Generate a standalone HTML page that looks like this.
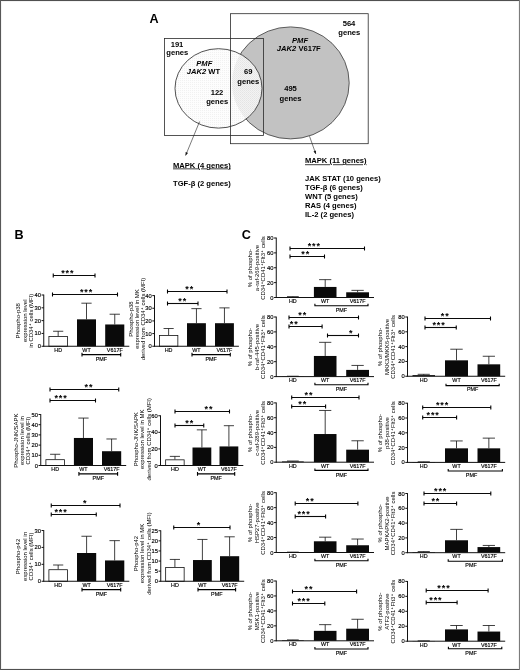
<!DOCTYPE html>
<html><head><meta charset="utf-8"><title>Figure</title>
<style>html,body{margin:0;padding:0;background:#fff}svg{display:block}</style>
</head><body>
<svg width="520" height="670" viewBox="0 0 520 670" font-family="Liberation Sans, Arial, sans-serif">
<defs>
<pattern id="pd1" width="2" height="2" patternUnits="userSpaceOnUse"><rect width="2" height="2" fill="#fdfdfd"/><rect width="1" height="1" fill="#f1f1f1"/></pattern>
<pattern id="pd2" width="2" height="2" patternUnits="userSpaceOnUse"><rect width="2" height="2" fill="#f3f3f3"/><rect width="1" height="1" fill="#e4e4e4"/><rect x="1" y="1" width="1" height="1" fill="#e9e9e9"/></pattern>
<clipPath id="cpBig"><ellipse cx="290.6" cy="82.9" rx="58.6" ry="56"/></clipPath>
</defs>
<rect width="520" height="670" fill="#fff"/>
<text x="149.60" y="23.40" font-size="12.6" text-anchor="start" font-weight="bold" font-style="normal" fill="#000" >A</text>
<ellipse cx="290.6" cy="82.9" rx="58.6" ry="56" fill="#c2c2c2" stroke="#444" stroke-width="0.85"/>
<ellipse cx="218.5" cy="88.4" rx="43.5" ry="39.7" fill="url(#pd1)"/>
<ellipse cx="218.5" cy="88.4" rx="43.5" ry="39.7" fill="url(#pd2)" clip-path="url(#cpBig)"/>
<ellipse cx="218.5" cy="88.4" rx="43.5" ry="39.7" fill="none" stroke="#333" stroke-width="0.85"/>
<rect x="230.4" y="13.7" width="137.8" height="130" fill="none" stroke="#2a2a2a" stroke-width="0.8"/>
<rect x="164.5" y="38.5" width="99" height="97" fill="none" stroke="#2a2a2a" stroke-width="0.8"/>
<text x="177.00" y="46.90" font-size="7.6" text-anchor="middle" font-weight="bold" font-style="normal" fill="#000" >191</text>
<text x="177.30" y="55.30" font-size="7.6" text-anchor="middle" font-weight="bold" font-style="normal" fill="#000" >genes</text>
<text x="204.30" y="65.50" font-size="7.6" text-anchor="middle" font-weight="bold" font-style="italic" fill="#000" >PMF</text>
<text x="203.5" y="74.4" font-size="7.6" text-anchor="middle" font-weight="bold" fill="#000"><tspan font-style="italic">JAK2</tspan> WT</text>
<text x="217.00" y="95.10" font-size="7.6" text-anchor="middle" font-weight="bold" font-style="normal" fill="#000" >122</text>
<text x="217.20" y="103.90" font-size="7.6" text-anchor="middle" font-weight="bold" font-style="normal" fill="#000" >genes</text>
<text x="248.20" y="74.40" font-size="7.6" text-anchor="middle" font-weight="bold" font-style="normal" fill="#000" >69</text>
<text x="248.30" y="83.90" font-size="7.6" text-anchor="middle" font-weight="bold" font-style="normal" fill="#000" >genes</text>
<text x="300.00" y="42.60" font-size="7.6" text-anchor="middle" font-weight="bold" font-style="italic" fill="#000" >PMF</text>
<text x="298.8" y="51.4" font-size="7.6" text-anchor="middle" font-weight="bold" fill="#000"><tspan font-style="italic">JAK2</tspan> V617F</text>
<text x="290.50" y="91.30" font-size="7.6" text-anchor="middle" font-weight="bold" font-style="normal" fill="#000" >495</text>
<text x="290.60" y="101.40" font-size="7.6" text-anchor="middle" font-weight="bold" font-style="normal" fill="#000" >genes</text>
<text x="349.00" y="25.90" font-size="7.6" text-anchor="middle" font-weight="bold" font-style="normal" fill="#000" >564</text>
<text x="349.30" y="34.70" font-size="7.6" text-anchor="middle" font-weight="bold" font-style="normal" fill="#000" >genes</text>
<line x1="199.60" y1="121.50" x2="185.60" y2="155.50" stroke="#222" stroke-width="0.6"/>
<polygon points="185.60,155.50 185.62,152.05 188.02,153.04" fill="#111"/>
<line x1="309.50" y1="136.20" x2="315.80" y2="154.00" stroke="#222" stroke-width="0.6"/>
<polygon points="315.80,154.00 313.51,151.42 315.96,150.55" fill="#111"/>
<text x="173.00" y="167.50" font-size="7.6" text-anchor="start" font-weight="bold" font-style="normal" fill="#000" text-decoration="underline">MAPK (4 genes)</text>
<text x="173.00" y="186.20" font-size="7.6" text-anchor="start" font-weight="bold" font-style="normal" fill="#000" >TGF-β (2 genes)</text>
<text x="305.00" y="163.40" font-size="7.6" text-anchor="start" font-weight="bold" font-style="normal" fill="#000" text-decoration="underline">MAPK (11 genes)</text>
<text x="305.00" y="181.40" font-size="7.6" text-anchor="start" font-weight="bold" font-style="normal" fill="#000" >JAK STAT (10 genes)</text>
<text x="305.00" y="190.20" font-size="7.6" text-anchor="start" font-weight="bold" font-style="normal" fill="#000" >TGF-β (6 genes)</text>
<text x="305.00" y="199.10" font-size="7.6" text-anchor="start" font-weight="bold" font-style="normal" fill="#000" >WNT (5 genes)</text>
<text x="305.00" y="208.10" font-size="7.6" text-anchor="start" font-weight="bold" font-style="normal" fill="#000" >RAS (4 genes)</text>
<text x="305.00" y="217.20" font-size="7.6" text-anchor="start" font-weight="bold" font-style="normal" fill="#000" >IL-2 (2 genes)</text>
<text x="14.60" y="238.60" font-size="12.6" text-anchor="start" font-weight="bold" font-style="normal" fill="#000" >B</text>
<text x="241.80" y="238.80" font-size="12.6" text-anchor="start" font-weight="bold" font-style="normal" fill="#000" >C</text>
<line x1="58.17" y1="336.26" x2="58.17" y2="331.26" stroke="#111" stroke-width="0.8"/>
<line x1="53.09" y1="331.26" x2="63.26" y2="331.26" stroke="#111" stroke-width="0.8"/>
<rect x="48.90" y="336.56" width="18.55" height="9.69" fill="#fff" stroke="#111" stroke-width="0.8"/>
<line x1="86.50" y1="319.34" x2="86.50" y2="303.20" stroke="#111" stroke-width="0.8"/>
<line x1="81.37" y1="303.20" x2="91.63" y2="303.20" stroke="#111" stroke-width="0.8"/>
<rect x="77.00" y="319.34" width="19.00" height="26.91" fill="#0a0a0a"/>
<line x1="114.75" y1="324.47" x2="114.75" y2="314.22" stroke="#111" stroke-width="0.8"/>
<line x1="109.59" y1="314.22" x2="119.91" y2="314.22" stroke="#111" stroke-width="0.8"/>
<rect x="105.20" y="324.47" width="19.10" height="21.78" fill="#0a0a0a"/>
<line x1="43.75" y1="294.60" x2="43.75" y2="346.65" stroke="#111" stroke-width="1.0"/>
<line x1="43.35" y1="346.25" x2="129.30" y2="346.25" stroke="#111" stroke-width="1.0"/>
<line x1="41.55" y1="346.25" x2="43.75" y2="346.25" stroke="#111" stroke-width="1.0"/>
<text x="40.95" y="348.25" font-size="5.8" text-anchor="end" font-weight="normal" font-style="normal" fill="#000" stroke="#000" stroke-width="0.15">0</text>
<line x1="41.55" y1="333.44" x2="43.75" y2="333.44" stroke="#111" stroke-width="1.0"/>
<text x="40.95" y="335.44" font-size="5.8" text-anchor="end" font-weight="normal" font-style="normal" fill="#000" stroke="#000" stroke-width="0.15">10</text>
<line x1="41.55" y1="320.62" x2="43.75" y2="320.62" stroke="#111" stroke-width="1.0"/>
<text x="40.95" y="322.62" font-size="5.8" text-anchor="end" font-weight="normal" font-style="normal" fill="#000" stroke="#000" stroke-width="0.15">20</text>
<line x1="41.55" y1="307.81" x2="43.75" y2="307.81" stroke="#111" stroke-width="1.0"/>
<text x="40.95" y="309.81" font-size="5.8" text-anchor="end" font-weight="normal" font-style="normal" fill="#000" stroke="#000" stroke-width="0.15">30</text>
<line x1="41.55" y1="295.00" x2="43.75" y2="295.00" stroke="#111" stroke-width="1.0"/>
<text x="40.95" y="297.00" font-size="5.8" text-anchor="end" font-weight="normal" font-style="normal" fill="#000" stroke="#000" stroke-width="0.15">40</text>
<line x1="53.25" y1="275.50" x2="95.00" y2="275.50" stroke="#0a0a0a" stroke-width="1.1"/>
<line x1="53.25" y1="273.50" x2="53.25" y2="277.50" stroke="#000" stroke-width="1.1"/>
<line x1="95.00" y1="273.50" x2="95.00" y2="277.50" stroke="#000" stroke-width="1.1"/>
<text x="67.75" y="275.90" font-size="9" text-anchor="middle" font-weight="bold" font-style="normal" fill="#000" letter-spacing="0.9">***</text>
<line x1="52.50" y1="294.50" x2="117.50" y2="294.50" stroke="#0a0a0a" stroke-width="1.1"/>
<line x1="52.50" y1="292.50" x2="52.50" y2="296.50" stroke="#000" stroke-width="1.1"/>
<line x1="117.50" y1="292.50" x2="117.50" y2="296.50" stroke="#000" stroke-width="1.1"/>
<text x="86.55" y="294.90" font-size="9" text-anchor="middle" font-weight="bold" font-style="normal" fill="#000" letter-spacing="0.9">***</text>
<text x="58.17" y="351.65" font-size="5.4" text-anchor="middle" font-weight="normal" font-style="normal" fill="#000" stroke="#000" stroke-width="0.15">HD</text>
<text x="86.50" y="351.65" font-size="5.4" text-anchor="middle" font-weight="normal" font-style="normal" fill="#000" stroke="#000" stroke-width="0.15">WT</text>
<text x="114.75" y="351.65" font-size="5.4" text-anchor="middle" font-weight="normal" font-style="normal" fill="#000" stroke="#000" stroke-width="0.15">V617F</text>
<path d="M82.00,352.85 V356.45 M82.00,354.65 H120.70 M120.70,352.85 V356.45" fill="none" stroke="#000" stroke-width="1.1"/>
<text x="101.35" y="360.85" font-size="5.4" text-anchor="middle" font-weight="normal" font-style="normal" fill="#000" stroke="#000" stroke-width="0.15">PMF</text>
<text transform="translate(20.10,320.83) rotate(-90)" font-size="5.95" text-anchor="middle" fill="#000">Phospho-p38</text>
<text transform="translate(26.90,320.83) rotate(-90)" font-size="5.95" text-anchor="middle" fill="#000">expression level</text>
<text transform="translate(33.20,320.83) rotate(-90)" font-size="5.95" text-anchor="middle" fill="#000">in CD34<tspan dy="-2" dx="0.35" font-size="4.4">+</tspan><tspan dy="2" dx="0.35"> cells (MFI)</tspan></text>
<line x1="168.62" y1="335.11" x2="168.62" y2="328.52" stroke="#111" stroke-width="0.8"/>
<line x1="163.56" y1="328.52" x2="173.69" y2="328.52" stroke="#111" stroke-width="0.8"/>
<rect x="159.40" y="335.41" width="18.45" height="10.84" fill="#fff" stroke="#111" stroke-width="0.8"/>
<line x1="196.45" y1="323.20" x2="196.45" y2="308.64" stroke="#111" stroke-width="0.8"/>
<line x1="191.35" y1="308.64" x2="201.55" y2="308.64" stroke="#111" stroke-width="0.8"/>
<rect x="187.00" y="323.20" width="18.90" height="23.05" fill="#0a0a0a"/>
<line x1="224.45" y1="323.20" x2="224.45" y2="307.88" stroke="#111" stroke-width="0.8"/>
<line x1="219.35" y1="307.88" x2="229.55" y2="307.88" stroke="#111" stroke-width="0.8"/>
<rect x="215.00" y="323.20" width="18.90" height="23.05" fill="#0a0a0a"/>
<line x1="154.50" y1="295.20" x2="154.50" y2="346.65" stroke="#111" stroke-width="1.0"/>
<line x1="154.10" y1="346.25" x2="238.90" y2="346.25" stroke="#111" stroke-width="1.0"/>
<line x1="152.30" y1="346.25" x2="154.50" y2="346.25" stroke="#111" stroke-width="1.0"/>
<text x="151.70" y="348.25" font-size="5.8" text-anchor="end" font-weight="normal" font-style="normal" fill="#000" stroke="#000" stroke-width="0.15">0</text>
<line x1="152.30" y1="333.59" x2="154.50" y2="333.59" stroke="#111" stroke-width="1.0"/>
<text x="151.70" y="335.59" font-size="5.8" text-anchor="end" font-weight="normal" font-style="normal" fill="#000" stroke="#000" stroke-width="0.15">10</text>
<line x1="152.30" y1="320.93" x2="154.50" y2="320.93" stroke="#111" stroke-width="1.0"/>
<text x="151.70" y="322.93" font-size="5.8" text-anchor="end" font-weight="normal" font-style="normal" fill="#000" stroke="#000" stroke-width="0.15">20</text>
<line x1="152.30" y1="308.26" x2="154.50" y2="308.26" stroke="#111" stroke-width="1.0"/>
<text x="151.70" y="310.26" font-size="5.8" text-anchor="end" font-weight="normal" font-style="normal" fill="#000" stroke="#000" stroke-width="0.15">30</text>
<line x1="152.30" y1="295.60" x2="154.50" y2="295.60" stroke="#111" stroke-width="1.0"/>
<text x="151.70" y="297.60" font-size="5.8" text-anchor="end" font-weight="normal" font-style="normal" fill="#000" stroke="#000" stroke-width="0.15">40</text>
<line x1="167.50" y1="291.50" x2="227.00" y2="291.50" stroke="#0a0a0a" stroke-width="1.1"/>
<line x1="167.50" y1="289.50" x2="167.50" y2="293.50" stroke="#000" stroke-width="1.1"/>
<line x1="227.00" y1="289.50" x2="227.00" y2="293.50" stroke="#000" stroke-width="1.1"/>
<text x="189.75" y="291.90" font-size="9" text-anchor="middle" font-weight="bold" font-style="normal" fill="#000" letter-spacing="0.9">**</text>
<line x1="167.50" y1="303.50" x2="198.00" y2="303.50" stroke="#0a0a0a" stroke-width="1.1"/>
<line x1="167.50" y1="301.50" x2="167.50" y2="305.50" stroke="#000" stroke-width="1.1"/>
<line x1="198.00" y1="301.50" x2="198.00" y2="305.50" stroke="#000" stroke-width="1.1"/>
<text x="182.75" y="303.90" font-size="9" text-anchor="middle" font-weight="bold" font-style="normal" fill="#000" letter-spacing="0.9">**</text>
<text x="168.62" y="351.65" font-size="5.4" text-anchor="middle" font-weight="normal" font-style="normal" fill="#000" stroke="#000" stroke-width="0.15">HD</text>
<text x="196.45" y="351.65" font-size="5.4" text-anchor="middle" font-weight="normal" font-style="normal" fill="#000" stroke="#000" stroke-width="0.15">WT</text>
<text x="224.45" y="351.65" font-size="5.4" text-anchor="middle" font-weight="normal" font-style="normal" fill="#000" stroke="#000" stroke-width="0.15">V617F</text>
<path d="M192.00,352.85 V356.45 M192.00,354.65 H230.30 M230.30,352.85 V356.45" fill="none" stroke="#000" stroke-width="1.1"/>
<text x="211.15" y="360.85" font-size="5.4" text-anchor="middle" font-weight="normal" font-style="normal" fill="#000" stroke="#000" stroke-width="0.15">PMF</text>
<text transform="translate(132.50,319.03) rotate(-90)" font-size="5.95" text-anchor="middle" fill="#000">Phospho-p38</text>
<text transform="translate(138.80,319.03) rotate(-90)" font-size="5.95" text-anchor="middle" fill="#000">expression level in MK</text>
<text transform="translate(144.90,319.03) rotate(-90)" font-size="5.95" text-anchor="middle" fill="#000">derived from CD34<tspan dy="-2" dx="0.35" font-size="4.4">+</tspan><tspan dy="2" dx="0.35"> cells (MFI)</tspan></text>
<line x1="55.17" y1="459.38" x2="55.17" y2="454.28" stroke="#111" stroke-width="0.8"/>
<line x1="50.09" y1="454.28" x2="60.26" y2="454.28" stroke="#111" stroke-width="0.8"/>
<rect x="45.90" y="459.68" width="18.55" height="5.82" fill="#fff" stroke="#111" stroke-width="0.8"/>
<line x1="83.45" y1="437.96" x2="83.45" y2="418.07" stroke="#111" stroke-width="0.8"/>
<line x1="78.29" y1="418.07" x2="88.61" y2="418.07" stroke="#111" stroke-width="0.8"/>
<rect x="73.90" y="437.96" width="19.10" height="27.54" fill="#0a0a0a"/>
<line x1="111.60" y1="451.22" x2="111.60" y2="438.98" stroke="#111" stroke-width="0.8"/>
<line x1="106.42" y1="438.98" x2="116.78" y2="438.98" stroke="#111" stroke-width="0.8"/>
<rect x="102.00" y="451.22" width="19.20" height="14.28" fill="#0a0a0a"/>
<line x1="40.75" y1="414.10" x2="40.75" y2="465.90" stroke="#111" stroke-width="1.0"/>
<line x1="40.35" y1="465.50" x2="126.20" y2="465.50" stroke="#111" stroke-width="1.0"/>
<line x1="38.55" y1="465.50" x2="40.75" y2="465.50" stroke="#111" stroke-width="1.0"/>
<text x="37.95" y="467.50" font-size="5.8" text-anchor="end" font-weight="normal" font-style="normal" fill="#000" stroke="#000" stroke-width="0.15">0</text>
<line x1="38.55" y1="455.30" x2="40.75" y2="455.30" stroke="#111" stroke-width="1.0"/>
<text x="37.95" y="457.30" font-size="5.8" text-anchor="end" font-weight="normal" font-style="normal" fill="#000" stroke="#000" stroke-width="0.15">10</text>
<line x1="38.55" y1="445.10" x2="40.75" y2="445.10" stroke="#111" stroke-width="1.0"/>
<text x="37.95" y="447.10" font-size="5.8" text-anchor="end" font-weight="normal" font-style="normal" fill="#000" stroke="#000" stroke-width="0.15">20</text>
<line x1="38.55" y1="434.90" x2="40.75" y2="434.90" stroke="#111" stroke-width="1.0"/>
<text x="37.95" y="436.90" font-size="5.8" text-anchor="end" font-weight="normal" font-style="normal" fill="#000" stroke="#000" stroke-width="0.15">30</text>
<line x1="38.55" y1="424.70" x2="40.75" y2="424.70" stroke="#111" stroke-width="1.0"/>
<text x="37.95" y="426.70" font-size="5.8" text-anchor="end" font-weight="normal" font-style="normal" fill="#000" stroke="#000" stroke-width="0.15">40</text>
<line x1="38.55" y1="414.50" x2="40.75" y2="414.50" stroke="#111" stroke-width="1.0"/>
<text x="37.95" y="416.50" font-size="5.8" text-anchor="end" font-weight="normal" font-style="normal" fill="#000" stroke="#000" stroke-width="0.15">50</text>
<line x1="50.00" y1="389.50" x2="118.75" y2="389.50" stroke="#0a0a0a" stroke-width="1.1"/>
<line x1="50.00" y1="387.50" x2="50.00" y2="391.50" stroke="#000" stroke-width="1.1"/>
<line x1="118.75" y1="387.50" x2="118.75" y2="391.50" stroke="#000" stroke-width="1.1"/>
<text x="89.00" y="389.90" font-size="9" text-anchor="middle" font-weight="bold" font-style="normal" fill="#000" letter-spacing="0.9">**</text>
<line x1="50.00" y1="400.50" x2="95.50" y2="400.50" stroke="#0a0a0a" stroke-width="1.1"/>
<line x1="50.00" y1="398.50" x2="50.00" y2="402.50" stroke="#000" stroke-width="1.1"/>
<line x1="95.50" y1="398.50" x2="95.50" y2="402.50" stroke="#000" stroke-width="1.1"/>
<text x="61.00" y="400.90" font-size="9" text-anchor="middle" font-weight="bold" font-style="normal" fill="#000" letter-spacing="0.9">***</text>
<text x="55.17" y="470.90" font-size="5.4" text-anchor="middle" font-weight="normal" font-style="normal" fill="#000" stroke="#000" stroke-width="0.15">HD</text>
<text x="83.45" y="470.90" font-size="5.4" text-anchor="middle" font-weight="normal" font-style="normal" fill="#000" stroke="#000" stroke-width="0.15">WT</text>
<text x="111.60" y="470.90" font-size="5.4" text-anchor="middle" font-weight="normal" font-style="normal" fill="#000" stroke="#000" stroke-width="0.15">V617F</text>
<path d="M78.90,472.10 V475.70 M78.90,473.90 H117.60 M117.60,472.10 V475.70" fill="none" stroke="#000" stroke-width="1.1"/>
<text x="98.25" y="480.10" font-size="5.4" text-anchor="middle" font-weight="normal" font-style="normal" fill="#000" stroke="#000" stroke-width="0.15">PMF</text>
<text transform="translate(17.50,440.60) rotate(-90)" font-size="5.95" text-anchor="middle" fill="#000">Phospho-JNK/SAPK</text>
<text transform="translate(24.00,440.60) rotate(-90)" font-size="5.95" text-anchor="middle" fill="#000">expression level in</text>
<text transform="translate(30.20,440.60) rotate(-90)" font-size="5.95" text-anchor="middle" fill="#000">CD34<tspan dy="-2" dx="0.35" font-size="4.4">+</tspan><tspan dy="2" dx="0.35"> cells (MFI)</tspan></text>
<line x1="174.90" y1="459.53" x2="174.90" y2="456.38" stroke="#111" stroke-width="0.8"/>
<line x1="169.82" y1="456.38" x2="179.98" y2="456.38" stroke="#111" stroke-width="0.8"/>
<rect x="165.65" y="459.83" width="18.50" height="5.67" fill="#fff" stroke="#111" stroke-width="0.8"/>
<line x1="201.90" y1="447.51" x2="201.90" y2="429.85" stroke="#111" stroke-width="0.8"/>
<line x1="196.82" y1="429.85" x2="206.98" y2="429.85" stroke="#111" stroke-width="0.8"/>
<rect x="192.50" y="447.51" width="18.80" height="17.99" fill="#0a0a0a"/>
<line x1="228.90" y1="446.43" x2="228.90" y2="425.70" stroke="#111" stroke-width="0.8"/>
<line x1="223.82" y1="425.70" x2="233.98" y2="425.70" stroke="#111" stroke-width="0.8"/>
<rect x="219.50" y="446.43" width="18.80" height="19.07" fill="#0a0a0a"/>
<line x1="160.50" y1="415.35" x2="160.50" y2="465.90" stroke="#111" stroke-width="1.0"/>
<line x1="160.10" y1="465.50" x2="243.30" y2="465.50" stroke="#111" stroke-width="1.0"/>
<line x1="158.30" y1="465.50" x2="160.50" y2="465.50" stroke="#111" stroke-width="1.0"/>
<text x="157.70" y="467.50" font-size="5.8" text-anchor="end" font-weight="normal" font-style="normal" fill="#000" stroke="#000" stroke-width="0.15">0</text>
<line x1="158.30" y1="448.92" x2="160.50" y2="448.92" stroke="#111" stroke-width="1.0"/>
<text x="157.70" y="450.92" font-size="5.8" text-anchor="end" font-weight="normal" font-style="normal" fill="#000" stroke="#000" stroke-width="0.15">20</text>
<line x1="158.30" y1="432.33" x2="160.50" y2="432.33" stroke="#111" stroke-width="1.0"/>
<text x="157.70" y="434.33" font-size="5.8" text-anchor="end" font-weight="normal" font-style="normal" fill="#000" stroke="#000" stroke-width="0.15">40</text>
<line x1="158.30" y1="415.75" x2="160.50" y2="415.75" stroke="#111" stroke-width="1.0"/>
<text x="157.70" y="417.75" font-size="5.8" text-anchor="end" font-weight="normal" font-style="normal" fill="#000" stroke="#000" stroke-width="0.15">60</text>
<line x1="175.00" y1="411.50" x2="229.50" y2="411.50" stroke="#0a0a0a" stroke-width="1.1"/>
<line x1="175.00" y1="409.50" x2="175.00" y2="413.50" stroke="#000" stroke-width="1.1"/>
<line x1="229.50" y1="409.50" x2="229.50" y2="413.50" stroke="#000" stroke-width="1.1"/>
<text x="209.00" y="411.90" font-size="9" text-anchor="middle" font-weight="bold" font-style="normal" fill="#000" letter-spacing="0.9">**</text>
<line x1="175.00" y1="425.50" x2="203.75" y2="425.50" stroke="#0a0a0a" stroke-width="1.1"/>
<line x1="175.00" y1="423.50" x2="175.00" y2="427.50" stroke="#000" stroke-width="1.1"/>
<line x1="203.75" y1="423.50" x2="203.75" y2="427.50" stroke="#000" stroke-width="1.1"/>
<text x="189.75" y="425.90" font-size="9" text-anchor="middle" font-weight="bold" font-style="normal" fill="#000" letter-spacing="0.9">**</text>
<text x="174.90" y="470.90" font-size="5.4" text-anchor="middle" font-weight="normal" font-style="normal" fill="#000" stroke="#000" stroke-width="0.15">HD</text>
<text x="201.90" y="470.90" font-size="5.4" text-anchor="middle" font-weight="normal" font-style="normal" fill="#000" stroke="#000" stroke-width="0.15">WT</text>
<text x="228.90" y="470.90" font-size="5.4" text-anchor="middle" font-weight="normal" font-style="normal" fill="#000" stroke="#000" stroke-width="0.15">V617F</text>
<path d="M197.50,472.10 V475.70 M197.50,473.90 H234.70 M234.70,472.10 V475.70" fill="none" stroke="#000" stroke-width="1.1"/>
<text x="216.10" y="480.10" font-size="5.4" text-anchor="middle" font-weight="normal" font-style="normal" fill="#000" stroke="#000" stroke-width="0.15">PMF</text>
<text transform="translate(137.60,439.23) rotate(-90)" font-size="5.95" text-anchor="middle" fill="#000">Phospho-JNK/SAPK</text>
<text transform="translate(144.10,439.23) rotate(-90)" font-size="5.95" text-anchor="middle" fill="#000">expression level in MK</text>
<text transform="translate(150.50,439.23) rotate(-90)" font-size="5.95" text-anchor="middle" fill="#000">derived from CD34<tspan dy="-2" dx="0.35" font-size="4.4">+</tspan><tspan dy="2" dx="0.35"> cells (MFI)</tspan></text>
<line x1="58.17" y1="569.41" x2="58.17" y2="565.01" stroke="#111" stroke-width="0.8"/>
<line x1="53.09" y1="565.01" x2="63.26" y2="565.01" stroke="#111" stroke-width="0.8"/>
<rect x="48.90" y="569.71" width="18.55" height="11.54" fill="#fff" stroke="#111" stroke-width="0.8"/>
<line x1="86.60" y1="553.00" x2="86.60" y2="536.25" stroke="#111" stroke-width="0.8"/>
<line x1="81.42" y1="536.25" x2="91.78" y2="536.25" stroke="#111" stroke-width="0.8"/>
<rect x="77.00" y="553.00" width="19.20" height="28.25" fill="#0a0a0a"/>
<line x1="114.65" y1="560.44" x2="114.65" y2="540.65" stroke="#111" stroke-width="0.8"/>
<line x1="109.44" y1="540.65" x2="119.86" y2="540.65" stroke="#111" stroke-width="0.8"/>
<rect x="105.00" y="560.44" width="19.30" height="20.81" fill="#0a0a0a"/>
<line x1="43.75" y1="530.10" x2="43.75" y2="581.65" stroke="#111" stroke-width="1.0"/>
<line x1="43.35" y1="581.25" x2="129.30" y2="581.25" stroke="#111" stroke-width="1.0"/>
<line x1="41.55" y1="581.25" x2="43.75" y2="581.25" stroke="#111" stroke-width="1.0"/>
<text x="40.95" y="583.25" font-size="5.8" text-anchor="end" font-weight="normal" font-style="normal" fill="#000" stroke="#000" stroke-width="0.15">0</text>
<line x1="41.55" y1="564.33" x2="43.75" y2="564.33" stroke="#111" stroke-width="1.0"/>
<text x="40.95" y="566.33" font-size="5.8" text-anchor="end" font-weight="normal" font-style="normal" fill="#000" stroke="#000" stroke-width="0.15">10</text>
<line x1="41.55" y1="547.42" x2="43.75" y2="547.42" stroke="#111" stroke-width="1.0"/>
<text x="40.95" y="549.42" font-size="5.8" text-anchor="end" font-weight="normal" font-style="normal" fill="#000" stroke="#000" stroke-width="0.15">20</text>
<line x1="41.55" y1="530.50" x2="43.75" y2="530.50" stroke="#111" stroke-width="1.0"/>
<text x="40.95" y="532.50" font-size="5.8" text-anchor="end" font-weight="normal" font-style="normal" fill="#000" stroke="#000" stroke-width="0.15">30</text>
<line x1="51.25" y1="505.50" x2="120.00" y2="505.50" stroke="#0a0a0a" stroke-width="1.1"/>
<line x1="51.25" y1="503.50" x2="51.25" y2="507.50" stroke="#000" stroke-width="1.1"/>
<line x1="120.00" y1="503.50" x2="120.00" y2="507.50" stroke="#000" stroke-width="1.1"/>
<text x="85.25" y="505.90" font-size="9" text-anchor="middle" font-weight="bold" font-style="normal" fill="#000" letter-spacing="0.9">*</text>
<line x1="51.25" y1="514.50" x2="96.25" y2="514.50" stroke="#0a0a0a" stroke-width="1.1"/>
<line x1="51.25" y1="512.50" x2="51.25" y2="516.50" stroke="#000" stroke-width="1.1"/>
<line x1="96.25" y1="512.50" x2="96.25" y2="516.50" stroke="#000" stroke-width="1.1"/>
<text x="61.00" y="514.90" font-size="9" text-anchor="middle" font-weight="bold" font-style="normal" fill="#000" letter-spacing="0.9">***</text>
<text x="58.17" y="587.35" font-size="5.4" text-anchor="middle" font-weight="normal" font-style="normal" fill="#000" stroke="#000" stroke-width="0.15">HD</text>
<text x="86.60" y="587.35" font-size="5.4" text-anchor="middle" font-weight="normal" font-style="normal" fill="#000" stroke="#000" stroke-width="0.15">WT</text>
<text x="114.65" y="587.35" font-size="5.4" text-anchor="middle" font-weight="normal" font-style="normal" fill="#000" stroke="#000" stroke-width="0.15">V617F</text>
<path d="M82.00,587.85 V591.45 M82.00,589.65 H120.70 M120.70,587.85 V591.45" fill="none" stroke="#000" stroke-width="1.1"/>
<text x="101.35" y="595.85" font-size="5.4" text-anchor="middle" font-weight="normal" font-style="normal" fill="#000" stroke="#000" stroke-width="0.15">PMF</text>
<text transform="translate(20.00,556.48) rotate(-90)" font-size="5.95" text-anchor="middle" fill="#000">Phospho-p42</text>
<text transform="translate(26.60,556.48) rotate(-90)" font-size="5.95" text-anchor="middle" fill="#000">expression level in</text>
<text transform="translate(32.70,556.48) rotate(-90)" font-size="5.95" text-anchor="middle" fill="#000">CD34<tspan dy="-2" dx="0.35" font-size="4.4">+</tspan><tspan dy="2" dx="0.35"> cells (MFI)</tspan></text>
<line x1="174.90" y1="567.11" x2="174.90" y2="559.43" stroke="#111" stroke-width="0.8"/>
<line x1="169.82" y1="559.43" x2="179.98" y2="559.43" stroke="#111" stroke-width="0.8"/>
<rect x="165.65" y="567.41" width="18.50" height="13.84" fill="#fff" stroke="#111" stroke-width="0.8"/>
<line x1="202.40" y1="560.04" x2="202.40" y2="539.44" stroke="#111" stroke-width="0.8"/>
<line x1="197.32" y1="539.44" x2="207.48" y2="539.44" stroke="#111" stroke-width="0.8"/>
<rect x="193.00" y="560.04" width="18.80" height="21.21" fill="#0a0a0a"/>
<line x1="229.60" y1="556.20" x2="229.60" y2="536.81" stroke="#111" stroke-width="0.8"/>
<line x1="224.42" y1="536.81" x2="234.78" y2="536.81" stroke="#111" stroke-width="0.8"/>
<rect x="220.00" y="556.20" width="19.20" height="25.05" fill="#0a0a0a"/>
<line x1="160.75" y1="530.35" x2="160.75" y2="581.65" stroke="#111" stroke-width="1.0"/>
<line x1="160.35" y1="581.25" x2="244.20" y2="581.25" stroke="#111" stroke-width="1.0"/>
<line x1="158.55" y1="581.25" x2="160.75" y2="581.25" stroke="#111" stroke-width="1.0"/>
<text x="157.95" y="583.25" font-size="5.8" text-anchor="end" font-weight="normal" font-style="normal" fill="#000" stroke="#000" stroke-width="0.15">0</text>
<line x1="158.55" y1="571.15" x2="160.75" y2="571.15" stroke="#111" stroke-width="1.0"/>
<text x="157.95" y="573.15" font-size="5.8" text-anchor="end" font-weight="normal" font-style="normal" fill="#000" stroke="#000" stroke-width="0.15">5</text>
<line x1="158.55" y1="561.05" x2="160.75" y2="561.05" stroke="#111" stroke-width="1.0"/>
<text x="157.95" y="563.05" font-size="5.8" text-anchor="end" font-weight="normal" font-style="normal" fill="#000" stroke="#000" stroke-width="0.15">10</text>
<line x1="158.55" y1="550.95" x2="160.75" y2="550.95" stroke="#111" stroke-width="1.0"/>
<text x="157.95" y="552.95" font-size="5.8" text-anchor="end" font-weight="normal" font-style="normal" fill="#000" stroke="#000" stroke-width="0.15">15</text>
<line x1="158.55" y1="540.85" x2="160.75" y2="540.85" stroke="#111" stroke-width="1.0"/>
<text x="157.95" y="542.85" font-size="5.8" text-anchor="end" font-weight="normal" font-style="normal" fill="#000" stroke="#000" stroke-width="0.15">20</text>
<line x1="158.55" y1="530.75" x2="160.75" y2="530.75" stroke="#111" stroke-width="1.0"/>
<text x="157.95" y="532.75" font-size="5.8" text-anchor="end" font-weight="normal" font-style="normal" fill="#000" stroke="#000" stroke-width="0.15">25</text>
<line x1="173.75" y1="527.50" x2="230.00" y2="527.50" stroke="#0a0a0a" stroke-width="1.1"/>
<line x1="173.75" y1="525.50" x2="173.75" y2="529.50" stroke="#000" stroke-width="1.1"/>
<line x1="230.00" y1="525.50" x2="230.00" y2="529.50" stroke="#000" stroke-width="1.1"/>
<text x="199.00" y="527.90" font-size="9" text-anchor="middle" font-weight="bold" font-style="normal" fill="#000" letter-spacing="0.9">*</text>
<text x="174.90" y="587.35" font-size="5.4" text-anchor="middle" font-weight="normal" font-style="normal" fill="#000" stroke="#000" stroke-width="0.15">HD</text>
<text x="202.40" y="587.35" font-size="5.4" text-anchor="middle" font-weight="normal" font-style="normal" fill="#000" stroke="#000" stroke-width="0.15">WT</text>
<text x="229.60" y="587.35" font-size="5.4" text-anchor="middle" font-weight="normal" font-style="normal" fill="#000" stroke="#000" stroke-width="0.15">V617F</text>
<path d="M198.00,587.85 V591.45 M198.00,589.65 H235.60 M235.60,587.85 V591.45" fill="none" stroke="#000" stroke-width="1.1"/>
<text x="216.80" y="595.85" font-size="5.4" text-anchor="middle" font-weight="normal" font-style="normal" fill="#000" stroke="#000" stroke-width="0.15">PMF</text>
<text transform="translate(137.60,553.60) rotate(-90)" font-size="5.95" text-anchor="middle" fill="#000">Phospho-p42</text>
<text transform="translate(144.10,553.60) rotate(-90)" font-size="5.95" text-anchor="middle" fill="#000">expression level in MK</text>
<text transform="translate(150.50,553.60) rotate(-90)" font-size="5.95" text-anchor="middle" fill="#000">derived from CD34<tspan dy="-2" dx="0.35" font-size="4.4">+</tspan><tspan dy="2" dx="0.35"> cells (MFI)</tspan></text>
<line x1="292.88" y1="297.05" x2="292.88" y2="296.61" stroke="#111" stroke-width="0.8"/>
<line x1="287.00" y1="296.61" x2="298.75" y2="296.61" stroke="#111" stroke-width="0.8"/>
<rect x="282.00" y="297.05" width="21.75" height="0.45" fill="#0a0a0a"/>
<line x1="325.20" y1="286.94" x2="325.20" y2="279.65" stroke="#111" stroke-width="0.8"/>
<line x1="319.10" y1="279.65" x2="331.30" y2="279.65" stroke="#111" stroke-width="0.8"/>
<rect x="313.90" y="286.94" width="22.60" height="10.56" fill="#0a0a0a"/>
<line x1="357.60" y1="292.29" x2="357.60" y2="290.36" stroke="#111" stroke-width="0.8"/>
<line x1="351.44" y1="290.36" x2="363.76" y2="290.36" stroke="#111" stroke-width="0.8"/>
<rect x="346.20" y="292.29" width="22.80" height="5.21" fill="#0a0a0a"/>
<line x1="276.25" y1="237.60" x2="276.25" y2="297.90" stroke="#111" stroke-width="1.0"/>
<line x1="275.85" y1="297.50" x2="374.00" y2="297.50" stroke="#111" stroke-width="1.0"/>
<line x1="274.05" y1="297.50" x2="276.25" y2="297.50" stroke="#111" stroke-width="1.0"/>
<text x="273.45" y="299.50" font-size="5.8" text-anchor="end" font-weight="normal" font-style="normal" fill="#000" stroke="#000" stroke-width="0.15">0</text>
<line x1="274.05" y1="282.62" x2="276.25" y2="282.62" stroke="#111" stroke-width="1.0"/>
<text x="273.45" y="284.62" font-size="5.8" text-anchor="end" font-weight="normal" font-style="normal" fill="#000" stroke="#000" stroke-width="0.15">20</text>
<line x1="274.05" y1="267.75" x2="276.25" y2="267.75" stroke="#111" stroke-width="1.0"/>
<text x="273.45" y="269.75" font-size="5.8" text-anchor="end" font-weight="normal" font-style="normal" fill="#000" stroke="#000" stroke-width="0.15">40</text>
<line x1="274.05" y1="252.88" x2="276.25" y2="252.88" stroke="#111" stroke-width="1.0"/>
<text x="273.45" y="254.88" font-size="5.8" text-anchor="end" font-weight="normal" font-style="normal" fill="#000" stroke="#000" stroke-width="0.15">60</text>
<line x1="274.05" y1="238.00" x2="276.25" y2="238.00" stroke="#111" stroke-width="1.0"/>
<text x="273.45" y="240.00" font-size="5.8" text-anchor="end" font-weight="normal" font-style="normal" fill="#000" stroke="#000" stroke-width="0.15">80</text>
<line x1="290.00" y1="248.50" x2="364.50" y2="248.50" stroke="#0a0a0a" stroke-width="1.1"/>
<line x1="290.00" y1="246.50" x2="290.00" y2="250.50" stroke="#000" stroke-width="1.1"/>
<line x1="364.50" y1="246.50" x2="364.50" y2="250.50" stroke="#000" stroke-width="1.1"/>
<text x="314.25" y="248.90" font-size="9" text-anchor="middle" font-weight="bold" font-style="normal" fill="#000" letter-spacing="0.9">***</text>
<line x1="290.00" y1="256.50" x2="324.50" y2="256.50" stroke="#0a0a0a" stroke-width="1.1"/>
<line x1="290.00" y1="254.50" x2="290.00" y2="258.50" stroke="#000" stroke-width="1.1"/>
<line x1="324.50" y1="254.50" x2="324.50" y2="258.50" stroke="#000" stroke-width="1.1"/>
<text x="305.65" y="256.90" font-size="9" text-anchor="middle" font-weight="bold" font-style="normal" fill="#000" letter-spacing="0.9">**</text>
<text x="292.88" y="302.90" font-size="5.4" text-anchor="middle" font-weight="normal" font-style="normal" fill="#000" stroke="#000" stroke-width="0.15">HD</text>
<text x="325.20" y="302.90" font-size="5.4" text-anchor="middle" font-weight="normal" font-style="normal" fill="#000" stroke="#000" stroke-width="0.15">WT</text>
<text x="357.60" y="302.90" font-size="5.4" text-anchor="middle" font-weight="normal" font-style="normal" fill="#000" stroke="#000" stroke-width="0.15">V617F</text>
<path d="M314.90,303.70 V305.70 H368.00 V303.70" fill="none" stroke="#000" stroke-width="1.1"/>
<text x="341.45" y="311.90" font-size="5.4" text-anchor="middle" font-weight="normal" font-style="normal" fill="#000" stroke="#000" stroke-width="0.15">PMF</text>
<text transform="translate(252.40,268.05) rotate(-90)" font-size="5.95" text-anchor="middle" fill="#000">% of phospho-</text>
<text transform="translate(258.65,268.05) rotate(-90)" font-size="5.95" text-anchor="middle" fill="#000">a-raf-269-positive</text>
<text transform="translate(264.90,268.05) rotate(-90)" font-size="5.95" text-anchor="middle" fill="#000">CD34<tspan dy="-2" dx="0.35" font-size="4.4">+</tspan><tspan dy="2" dx="0.35">CD41</tspan><tspan dy="-2" dx="0.35" font-size="4.4">+</tspan><tspan dy="2" dx="0.35">Flt3</tspan><tspan dy="-2" dx="0.35" font-size="4.4">+</tspan><tspan dy="2" dx="0.35"> cells</tspan></text>
<line x1="292.88" y1="376.38" x2="292.88" y2="376.23" stroke="#111" stroke-width="0.8"/>
<line x1="287.00" y1="376.23" x2="298.75" y2="376.23" stroke="#111" stroke-width="0.8"/>
<rect x="282.00" y="376.38" width="21.75" height="0.22" fill="#0a0a0a"/>
<line x1="325.20" y1="355.96" x2="325.20" y2="342.33" stroke="#111" stroke-width="0.8"/>
<line x1="319.10" y1="342.33" x2="331.30" y2="342.33" stroke="#111" stroke-width="0.8"/>
<rect x="313.90" y="355.96" width="22.60" height="20.64" fill="#0a0a0a"/>
<line x1="357.60" y1="369.90" x2="357.60" y2="365.43" stroke="#111" stroke-width="0.8"/>
<line x1="351.44" y1="365.43" x2="363.76" y2="365.43" stroke="#111" stroke-width="0.8"/>
<rect x="346.20" y="369.90" width="22.80" height="6.70" fill="#0a0a0a"/>
<line x1="276.25" y1="316.60" x2="276.25" y2="377.00" stroke="#111" stroke-width="1.0"/>
<line x1="275.85" y1="376.60" x2="374.00" y2="376.60" stroke="#111" stroke-width="1.0"/>
<line x1="274.05" y1="376.60" x2="276.25" y2="376.60" stroke="#111" stroke-width="1.0"/>
<text x="273.45" y="378.60" font-size="5.8" text-anchor="end" font-weight="normal" font-style="normal" fill="#000" stroke="#000" stroke-width="0.15">0</text>
<line x1="274.05" y1="361.70" x2="276.25" y2="361.70" stroke="#111" stroke-width="1.0"/>
<text x="273.45" y="363.70" font-size="5.8" text-anchor="end" font-weight="normal" font-style="normal" fill="#000" stroke="#000" stroke-width="0.15">20</text>
<line x1="274.05" y1="346.80" x2="276.25" y2="346.80" stroke="#111" stroke-width="1.0"/>
<text x="273.45" y="348.80" font-size="5.8" text-anchor="end" font-weight="normal" font-style="normal" fill="#000" stroke="#000" stroke-width="0.15">40</text>
<line x1="274.05" y1="331.90" x2="276.25" y2="331.90" stroke="#111" stroke-width="1.0"/>
<text x="273.45" y="333.90" font-size="5.8" text-anchor="end" font-weight="normal" font-style="normal" fill="#000" stroke="#000" stroke-width="0.15">60</text>
<line x1="274.05" y1="317.00" x2="276.25" y2="317.00" stroke="#111" stroke-width="1.0"/>
<text x="273.45" y="319.00" font-size="5.8" text-anchor="end" font-weight="normal" font-style="normal" fill="#000" stroke="#000" stroke-width="0.15">80</text>
<line x1="289.00" y1="317.50" x2="358.50" y2="317.50" stroke="#0a0a0a" stroke-width="1.1"/>
<line x1="289.00" y1="315.50" x2="289.00" y2="319.50" stroke="#000" stroke-width="1.1"/>
<line x1="358.50" y1="315.50" x2="358.50" y2="319.50" stroke="#000" stroke-width="1.1"/>
<text x="302.75" y="317.90" font-size="9" text-anchor="middle" font-weight="bold" font-style="normal" fill="#000" letter-spacing="0.9">**</text>
<line x1="289.00" y1="326.50" x2="322.10" y2="326.50" stroke="#0a0a0a" stroke-width="1.1"/>
<line x1="289.00" y1="324.50" x2="289.00" y2="328.50" stroke="#000" stroke-width="1.1"/>
<line x1="322.10" y1="324.50" x2="322.10" y2="328.50" stroke="#000" stroke-width="1.1"/>
<text x="294.15" y="326.90" font-size="9" text-anchor="middle" font-weight="bold" font-style="normal" fill="#000" letter-spacing="0.9">**</text>
<line x1="327.50" y1="335.50" x2="358.50" y2="335.50" stroke="#0a0a0a" stroke-width="1.1"/>
<line x1="327.50" y1="333.50" x2="327.50" y2="337.50" stroke="#000" stroke-width="1.1"/>
<line x1="358.50" y1="333.50" x2="358.50" y2="337.50" stroke="#000" stroke-width="1.1"/>
<text x="351.25" y="335.90" font-size="9" text-anchor="middle" font-weight="bold" font-style="normal" fill="#000" letter-spacing="0.9">*</text>
<text x="292.88" y="382.00" font-size="5.4" text-anchor="middle" font-weight="normal" font-style="normal" fill="#000" stroke="#000" stroke-width="0.15">HD</text>
<text x="325.20" y="382.00" font-size="5.4" text-anchor="middle" font-weight="normal" font-style="normal" fill="#000" stroke="#000" stroke-width="0.15">WT</text>
<text x="357.60" y="382.00" font-size="5.4" text-anchor="middle" font-weight="normal" font-style="normal" fill="#000" stroke="#000" stroke-width="0.15">V617F</text>
<path d="M314.90,382.80 V384.80 H368.00 V382.80" fill="none" stroke="#000" stroke-width="1.1"/>
<text x="341.45" y="391.00" font-size="5.4" text-anchor="middle" font-weight="normal" font-style="normal" fill="#000" stroke="#000" stroke-width="0.15">PMF</text>
<text transform="translate(252.40,347.10) rotate(-90)" font-size="5.95" text-anchor="middle" fill="#000">% of phospho-</text>
<text transform="translate(258.65,347.10) rotate(-90)" font-size="5.95" text-anchor="middle" fill="#000">b-raf-445-positive</text>
<text transform="translate(264.90,347.10) rotate(-90)" font-size="5.95" text-anchor="middle" fill="#000">CD34<tspan dy="-2" dx="0.35" font-size="4.4">+</tspan><tspan dy="2" dx="0.35">CD41</tspan><tspan dy="-2" dx="0.35" font-size="4.4">+</tspan><tspan dy="2" dx="0.35">Flt3</tspan><tspan dy="-2" dx="0.35" font-size="4.4">+</tspan><tspan dy="2" dx="0.35"> cells</tspan></text>
<line x1="292.88" y1="461.46" x2="292.88" y2="461.01" stroke="#111" stroke-width="0.8"/>
<line x1="287.00" y1="461.01" x2="298.75" y2="461.01" stroke="#111" stroke-width="0.8"/>
<rect x="282.00" y="461.46" width="21.75" height="0.74" fill="#0a0a0a"/>
<line x1="325.20" y1="434.03" x2="325.20" y2="410.46" stroke="#111" stroke-width="0.8"/>
<line x1="319.10" y1="410.46" x2="331.30" y2="410.46" stroke="#111" stroke-width="0.8"/>
<rect x="313.90" y="434.03" width="22.60" height="28.17" fill="#0a0a0a"/>
<line x1="357.60" y1="449.67" x2="357.60" y2="440.78" stroke="#111" stroke-width="0.8"/>
<line x1="351.44" y1="440.78" x2="363.76" y2="440.78" stroke="#111" stroke-width="0.8"/>
<rect x="346.20" y="449.67" width="22.80" height="12.53" fill="#0a0a0a"/>
<line x1="276.25" y1="402.50" x2="276.25" y2="462.60" stroke="#111" stroke-width="1.0"/>
<line x1="275.85" y1="462.20" x2="374.00" y2="462.20" stroke="#111" stroke-width="1.0"/>
<line x1="274.05" y1="462.20" x2="276.25" y2="462.20" stroke="#111" stroke-width="1.0"/>
<text x="273.45" y="464.20" font-size="5.8" text-anchor="end" font-weight="normal" font-style="normal" fill="#000" stroke="#000" stroke-width="0.15">0</text>
<line x1="274.05" y1="447.38" x2="276.25" y2="447.38" stroke="#111" stroke-width="1.0"/>
<text x="273.45" y="449.38" font-size="5.8" text-anchor="end" font-weight="normal" font-style="normal" fill="#000" stroke="#000" stroke-width="0.15">20</text>
<line x1="274.05" y1="432.55" x2="276.25" y2="432.55" stroke="#111" stroke-width="1.0"/>
<text x="273.45" y="434.55" font-size="5.8" text-anchor="end" font-weight="normal" font-style="normal" fill="#000" stroke="#000" stroke-width="0.15">40</text>
<line x1="274.05" y1="417.72" x2="276.25" y2="417.72" stroke="#111" stroke-width="1.0"/>
<text x="273.45" y="419.72" font-size="5.8" text-anchor="end" font-weight="normal" font-style="normal" fill="#000" stroke="#000" stroke-width="0.15">60</text>
<line x1="274.05" y1="402.90" x2="276.25" y2="402.90" stroke="#111" stroke-width="1.0"/>
<text x="273.45" y="404.90" font-size="5.8" text-anchor="end" font-weight="normal" font-style="normal" fill="#000" stroke="#000" stroke-width="0.15">80</text>
<line x1="291.70" y1="397.50" x2="359.00" y2="397.50" stroke="#0a0a0a" stroke-width="1.1"/>
<line x1="291.70" y1="395.50" x2="291.70" y2="399.50" stroke="#000" stroke-width="1.1"/>
<line x1="359.00" y1="395.50" x2="359.00" y2="399.50" stroke="#000" stroke-width="1.1"/>
<text x="308.95" y="397.90" font-size="9" text-anchor="middle" font-weight="bold" font-style="normal" fill="#000" letter-spacing="0.9">**</text>
<line x1="291.70" y1="406.50" x2="325.60" y2="406.50" stroke="#0a0a0a" stroke-width="1.1"/>
<line x1="291.70" y1="404.50" x2="291.70" y2="408.50" stroke="#000" stroke-width="1.1"/>
<line x1="325.60" y1="404.50" x2="325.60" y2="408.50" stroke="#000" stroke-width="1.1"/>
<text x="302.75" y="406.90" font-size="9" text-anchor="middle" font-weight="bold" font-style="normal" fill="#000" letter-spacing="0.9">**</text>
<text x="292.88" y="467.60" font-size="5.4" text-anchor="middle" font-weight="normal" font-style="normal" fill="#000" stroke="#000" stroke-width="0.15">HD</text>
<text x="325.20" y="467.60" font-size="5.4" text-anchor="middle" font-weight="normal" font-style="normal" fill="#000" stroke="#000" stroke-width="0.15">WT</text>
<text x="357.60" y="467.60" font-size="5.4" text-anchor="middle" font-weight="normal" font-style="normal" fill="#000" stroke="#000" stroke-width="0.15">V617F</text>
<path d="M314.90,468.40 V470.40 H368.00 V468.40" fill="none" stroke="#000" stroke-width="1.1"/>
<text x="341.45" y="476.60" font-size="5.4" text-anchor="middle" font-weight="normal" font-style="normal" fill="#000" stroke="#000" stroke-width="0.15">PMF</text>
<text transform="translate(252.40,432.85) rotate(-90)" font-size="5.95" text-anchor="middle" fill="#000">% of phospho-</text>
<text transform="translate(258.65,432.85) rotate(-90)" font-size="5.95" text-anchor="middle" fill="#000">c-raf-289-positive</text>
<text transform="translate(264.90,432.85) rotate(-90)" font-size="5.95" text-anchor="middle" fill="#000">CD34<tspan dy="-2" dx="0.35" font-size="4.4">+</tspan><tspan dy="2" dx="0.35">CD41</tspan><tspan dy="-2" dx="0.35" font-size="4.4">+</tspan><tspan dy="2" dx="0.35">Flt3</tspan><tspan dy="-2" dx="0.35" font-size="4.4">+</tspan><tspan dy="2" dx="0.35"> cells</tspan></text>
<line x1="292.88" y1="552.28" x2="292.88" y2="552.13" stroke="#111" stroke-width="0.8"/>
<line x1="287.00" y1="552.13" x2="298.75" y2="552.13" stroke="#111" stroke-width="0.8"/>
<rect x="282.00" y="552.28" width="21.75" height="0.22" fill="#0a0a0a"/>
<line x1="325.20" y1="541.29" x2="325.20" y2="537.18" stroke="#111" stroke-width="0.8"/>
<line x1="319.10" y1="537.18" x2="331.30" y2="537.18" stroke="#111" stroke-width="0.8"/>
<rect x="313.90" y="541.29" width="22.60" height="11.21" fill="#0a0a0a"/>
<line x1="357.60" y1="545.25" x2="357.60" y2="539.04" stroke="#111" stroke-width="0.8"/>
<line x1="351.44" y1="539.04" x2="363.76" y2="539.04" stroke="#111" stroke-width="0.8"/>
<rect x="346.20" y="545.25" width="22.80" height="7.25" fill="#0a0a0a"/>
<line x1="276.25" y1="492.30" x2="276.25" y2="552.90" stroke="#111" stroke-width="1.0"/>
<line x1="275.85" y1="552.50" x2="374.00" y2="552.50" stroke="#111" stroke-width="1.0"/>
<line x1="274.05" y1="552.50" x2="276.25" y2="552.50" stroke="#111" stroke-width="1.0"/>
<text x="273.45" y="554.50" font-size="5.8" text-anchor="end" font-weight="normal" font-style="normal" fill="#000" stroke="#000" stroke-width="0.15">0</text>
<line x1="274.05" y1="537.55" x2="276.25" y2="537.55" stroke="#111" stroke-width="1.0"/>
<text x="273.45" y="539.55" font-size="5.8" text-anchor="end" font-weight="normal" font-style="normal" fill="#000" stroke="#000" stroke-width="0.15">20</text>
<line x1="274.05" y1="522.60" x2="276.25" y2="522.60" stroke="#111" stroke-width="1.0"/>
<text x="273.45" y="524.60" font-size="5.8" text-anchor="end" font-weight="normal" font-style="normal" fill="#000" stroke="#000" stroke-width="0.15">40</text>
<line x1="274.05" y1="507.65" x2="276.25" y2="507.65" stroke="#111" stroke-width="1.0"/>
<text x="273.45" y="509.65" font-size="5.8" text-anchor="end" font-weight="normal" font-style="normal" fill="#000" stroke="#000" stroke-width="0.15">60</text>
<line x1="274.05" y1="492.70" x2="276.25" y2="492.70" stroke="#111" stroke-width="1.0"/>
<text x="273.45" y="494.70" font-size="5.8" text-anchor="end" font-weight="normal" font-style="normal" fill="#000" stroke="#000" stroke-width="0.15">80</text>
<line x1="295.20" y1="503.50" x2="357.90" y2="503.50" stroke="#0a0a0a" stroke-width="1.1"/>
<line x1="295.20" y1="501.50" x2="295.20" y2="505.50" stroke="#000" stroke-width="1.1"/>
<line x1="357.90" y1="501.50" x2="357.90" y2="505.50" stroke="#000" stroke-width="1.1"/>
<text x="310.25" y="503.90" font-size="9" text-anchor="middle" font-weight="bold" font-style="normal" fill="#000" letter-spacing="0.9">**</text>
<line x1="295.20" y1="516.50" x2="325.60" y2="516.50" stroke="#0a0a0a" stroke-width="1.1"/>
<line x1="295.20" y1="514.50" x2="295.20" y2="518.50" stroke="#000" stroke-width="1.1"/>
<line x1="325.60" y1="514.50" x2="325.60" y2="518.50" stroke="#000" stroke-width="1.1"/>
<text x="304.05" y="516.90" font-size="9" text-anchor="middle" font-weight="bold" font-style="normal" fill="#000" letter-spacing="0.9">***</text>
<text x="292.88" y="557.90" font-size="5.4" text-anchor="middle" font-weight="normal" font-style="normal" fill="#000" stroke="#000" stroke-width="0.15">HD</text>
<text x="325.20" y="557.90" font-size="5.4" text-anchor="middle" font-weight="normal" font-style="normal" fill="#000" stroke="#000" stroke-width="0.15">WT</text>
<text x="357.60" y="557.90" font-size="5.4" text-anchor="middle" font-weight="normal" font-style="normal" fill="#000" stroke="#000" stroke-width="0.15">V617F</text>
<path d="M314.90,558.70 V560.70 H368.00 V558.70" fill="none" stroke="#000" stroke-width="1.1"/>
<text x="341.45" y="566.90" font-size="5.4" text-anchor="middle" font-weight="normal" font-style="normal" fill="#000" stroke="#000" stroke-width="0.15">PMF</text>
<text transform="translate(252.40,522.90) rotate(-90)" font-size="5.95" text-anchor="middle" fill="#000">% of phospho-</text>
<text transform="translate(258.65,522.90) rotate(-90)" font-size="5.95" text-anchor="middle" fill="#000">HSP27-positive</text>
<text transform="translate(264.90,522.90) rotate(-90)" font-size="5.95" text-anchor="middle" fill="#000">CD34<tspan dy="-2" dx="0.35" font-size="4.4">+</tspan><tspan dy="2" dx="0.35">CD41</tspan><tspan dy="-2" dx="0.35" font-size="4.4">+</tspan><tspan dy="2" dx="0.35">Flt3</tspan><tspan dy="-2" dx="0.35" font-size="4.4">+</tspan><tspan dy="2" dx="0.35"> cells</tspan></text>
<line x1="292.88" y1="640.28" x2="292.88" y2="639.90" stroke="#111" stroke-width="0.8"/>
<line x1="287.00" y1="639.90" x2="298.75" y2="639.90" stroke="#111" stroke-width="0.8"/>
<rect x="282.00" y="640.28" width="21.75" height="0.52" fill="#0a0a0a"/>
<line x1="325.20" y1="630.86" x2="325.20" y2="624.65" stroke="#111" stroke-width="0.8"/>
<line x1="319.10" y1="624.65" x2="331.30" y2="624.65" stroke="#111" stroke-width="0.8"/>
<rect x="313.90" y="630.86" width="22.60" height="9.94" fill="#0a0a0a"/>
<line x1="357.60" y1="628.69" x2="357.60" y2="619.27" stroke="#111" stroke-width="0.8"/>
<line x1="351.44" y1="619.27" x2="363.76" y2="619.27" stroke="#111" stroke-width="0.8"/>
<rect x="346.20" y="628.69" width="22.80" height="12.11" fill="#0a0a0a"/>
<line x1="276.25" y1="580.60" x2="276.25" y2="641.20" stroke="#111" stroke-width="1.0"/>
<line x1="275.85" y1="640.80" x2="374.00" y2="640.80" stroke="#111" stroke-width="1.0"/>
<line x1="274.05" y1="640.80" x2="276.25" y2="640.80" stroke="#111" stroke-width="1.0"/>
<text x="273.45" y="642.80" font-size="5.8" text-anchor="end" font-weight="normal" font-style="normal" fill="#000" stroke="#000" stroke-width="0.15">0</text>
<line x1="274.05" y1="625.85" x2="276.25" y2="625.85" stroke="#111" stroke-width="1.0"/>
<text x="273.45" y="627.85" font-size="5.8" text-anchor="end" font-weight="normal" font-style="normal" fill="#000" stroke="#000" stroke-width="0.15">20</text>
<line x1="274.05" y1="610.90" x2="276.25" y2="610.90" stroke="#111" stroke-width="1.0"/>
<text x="273.45" y="612.90" font-size="5.8" text-anchor="end" font-weight="normal" font-style="normal" fill="#000" stroke="#000" stroke-width="0.15">40</text>
<line x1="274.05" y1="595.95" x2="276.25" y2="595.95" stroke="#111" stroke-width="1.0"/>
<text x="273.45" y="597.95" font-size="5.8" text-anchor="end" font-weight="normal" font-style="normal" fill="#000" stroke="#000" stroke-width="0.15">60</text>
<line x1="274.05" y1="581.00" x2="276.25" y2="581.00" stroke="#111" stroke-width="1.0"/>
<text x="273.45" y="583.00" font-size="5.8" text-anchor="end" font-weight="normal" font-style="normal" fill="#000" stroke="#000" stroke-width="0.15">80</text>
<line x1="292.50" y1="591.50" x2="356.60" y2="591.50" stroke="#0a0a0a" stroke-width="1.1"/>
<line x1="292.50" y1="589.50" x2="292.50" y2="593.50" stroke="#000" stroke-width="1.1"/>
<line x1="356.60" y1="589.50" x2="356.60" y2="593.50" stroke="#000" stroke-width="1.1"/>
<text x="308.95" y="591.90" font-size="9" text-anchor="middle" font-weight="bold" font-style="normal" fill="#000" letter-spacing="0.9">**</text>
<line x1="292.50" y1="603.50" x2="324.80" y2="603.50" stroke="#0a0a0a" stroke-width="1.1"/>
<line x1="292.50" y1="601.50" x2="292.50" y2="605.50" stroke="#000" stroke-width="1.1"/>
<line x1="324.80" y1="601.50" x2="324.80" y2="605.50" stroke="#000" stroke-width="1.1"/>
<text x="304.05" y="603.90" font-size="9" text-anchor="middle" font-weight="bold" font-style="normal" fill="#000" letter-spacing="0.9">***</text>
<text x="292.88" y="646.20" font-size="5.4" text-anchor="middle" font-weight="normal" font-style="normal" fill="#000" stroke="#000" stroke-width="0.15">HD</text>
<text x="325.20" y="646.20" font-size="5.4" text-anchor="middle" font-weight="normal" font-style="normal" fill="#000" stroke="#000" stroke-width="0.15">WT</text>
<text x="357.60" y="646.20" font-size="5.4" text-anchor="middle" font-weight="normal" font-style="normal" fill="#000" stroke="#000" stroke-width="0.15">V617F</text>
<path d="M314.90,647.00 V649.00 H368.00 V647.00" fill="none" stroke="#000" stroke-width="1.1"/>
<text x="341.45" y="655.20" font-size="5.4" text-anchor="middle" font-weight="normal" font-style="normal" fill="#000" stroke="#000" stroke-width="0.15">PMF</text>
<text transform="translate(252.40,611.20) rotate(-90)" font-size="5.95" text-anchor="middle" fill="#000">% of phospho-</text>
<text transform="translate(258.65,611.20) rotate(-90)" font-size="5.95" text-anchor="middle" fill="#000">MSK1-positive</text>
<text transform="translate(264.90,611.20) rotate(-90)" font-size="5.95" text-anchor="middle" fill="#000">CD34<tspan dy="-2" dx="0.35" font-size="4.4">+</tspan><tspan dy="2" dx="0.35">CD41</tspan><tspan dy="-2" dx="0.35" font-size="4.4">+</tspan><tspan dy="2" dx="0.35">Flt3</tspan><tspan dy="-2" dx="0.35" font-size="4.4">+</tspan><tspan dy="2" dx="0.35"> cells</tspan></text>
<line x1="423.75" y1="375.14" x2="423.75" y2="374.32" stroke="#111" stroke-width="0.8"/>
<line x1="417.68" y1="374.32" x2="429.82" y2="374.32" stroke="#111" stroke-width="0.8"/>
<rect x="412.50" y="375.14" width="22.50" height="1.11" fill="#0a0a0a"/>
<line x1="456.50" y1="360.33" x2="456.50" y2="349.22" stroke="#111" stroke-width="0.8"/>
<line x1="450.29" y1="349.22" x2="462.71" y2="349.22" stroke="#111" stroke-width="0.8"/>
<rect x="445.00" y="360.33" width="23.00" height="15.92" fill="#0a0a0a"/>
<line x1="488.85" y1="364.33" x2="488.85" y2="356.25" stroke="#111" stroke-width="0.8"/>
<line x1="482.72" y1="356.25" x2="494.98" y2="356.25" stroke="#111" stroke-width="0.8"/>
<rect x="477.50" y="364.33" width="22.70" height="11.92" fill="#0a0a0a"/>
<line x1="407.50" y1="316.60" x2="407.50" y2="376.65" stroke="#111" stroke-width="1.0"/>
<line x1="407.10" y1="376.25" x2="505.20" y2="376.25" stroke="#111" stroke-width="1.0"/>
<line x1="405.30" y1="376.25" x2="407.50" y2="376.25" stroke="#111" stroke-width="1.0"/>
<text x="404.70" y="378.25" font-size="5.8" text-anchor="end" font-weight="normal" font-style="normal" fill="#000" stroke="#000" stroke-width="0.15">0</text>
<line x1="405.30" y1="361.44" x2="407.50" y2="361.44" stroke="#111" stroke-width="1.0"/>
<text x="404.70" y="363.44" font-size="5.8" text-anchor="end" font-weight="normal" font-style="normal" fill="#000" stroke="#000" stroke-width="0.15">20</text>
<line x1="405.30" y1="346.62" x2="407.50" y2="346.62" stroke="#111" stroke-width="1.0"/>
<text x="404.70" y="348.62" font-size="5.8" text-anchor="end" font-weight="normal" font-style="normal" fill="#000" stroke="#000" stroke-width="0.15">40</text>
<line x1="405.30" y1="331.81" x2="407.50" y2="331.81" stroke="#111" stroke-width="1.0"/>
<text x="404.70" y="333.81" font-size="5.8" text-anchor="end" font-weight="normal" font-style="normal" fill="#000" stroke="#000" stroke-width="0.15">60</text>
<line x1="405.30" y1="317.00" x2="407.50" y2="317.00" stroke="#111" stroke-width="1.0"/>
<text x="404.70" y="319.00" font-size="5.8" text-anchor="end" font-weight="normal" font-style="normal" fill="#000" stroke="#000" stroke-width="0.15">80</text>
<line x1="425.00" y1="318.50" x2="490.50" y2="318.50" stroke="#0a0a0a" stroke-width="1.1"/>
<line x1="425.00" y1="316.50" x2="425.00" y2="320.50" stroke="#000" stroke-width="1.1"/>
<line x1="490.50" y1="316.50" x2="490.50" y2="320.50" stroke="#000" stroke-width="1.1"/>
<text x="445.25" y="318.90" font-size="9" text-anchor="middle" font-weight="bold" font-style="normal" fill="#000" letter-spacing="0.9">**</text>
<line x1="425.00" y1="327.50" x2="456.25" y2="327.50" stroke="#0a0a0a" stroke-width="1.1"/>
<line x1="425.00" y1="325.50" x2="425.00" y2="329.50" stroke="#000" stroke-width="1.1"/>
<line x1="456.25" y1="325.50" x2="456.25" y2="329.50" stroke="#000" stroke-width="1.1"/>
<text x="439.05" y="327.90" font-size="9" text-anchor="middle" font-weight="bold" font-style="normal" fill="#000" letter-spacing="0.9">***</text>
<text x="423.75" y="381.65" font-size="5.4" text-anchor="middle" font-weight="normal" font-style="normal" fill="#000" stroke="#000" stroke-width="0.15">HD</text>
<text x="456.50" y="381.65" font-size="5.4" text-anchor="middle" font-weight="normal" font-style="normal" fill="#000" stroke="#000" stroke-width="0.15">WT</text>
<text x="488.85" y="381.65" font-size="5.4" text-anchor="middle" font-weight="normal" font-style="normal" fill="#000" stroke="#000" stroke-width="0.15">V617F</text>
<path d="M446.00,383.65 V385.65 H499.20 V383.65" fill="none" stroke="#000" stroke-width="1.1"/>
<text x="472.60" y="391.25" font-size="5.4" text-anchor="middle" font-weight="normal" font-style="normal" fill="#000" stroke="#000" stroke-width="0.15">PMF</text>
<text transform="translate(382.40,346.93) rotate(-90)" font-size="5.95" text-anchor="middle" fill="#000">% of phospho-</text>
<text transform="translate(389.15,346.93) rotate(-90)" font-size="5.95" text-anchor="middle" fill="#000">MKK3/MKK6-positive</text>
<text transform="translate(395.40,346.93) rotate(-90)" font-size="5.95" text-anchor="middle" fill="#000">CD34<tspan dy="-2" dx="0.35" font-size="4.4">+</tspan><tspan dy="2" dx="0.35">CD41</tspan><tspan dy="-2" dx="0.35" font-size="4.4">+</tspan><tspan dy="2" dx="0.35">Flt3</tspan><tspan dy="-2" dx="0.35" font-size="4.4">+</tspan><tspan dy="2" dx="0.35"> cells</tspan></text>
<line x1="423.75" y1="462.03" x2="423.75" y2="461.81" stroke="#111" stroke-width="0.8"/>
<line x1="417.68" y1="461.81" x2="429.82" y2="461.81" stroke="#111" stroke-width="0.8"/>
<rect x="412.50" y="462.03" width="22.50" height="0.37" fill="#0a0a0a"/>
<line x1="456.50" y1="448.34" x2="456.50" y2="440.94" stroke="#111" stroke-width="0.8"/>
<line x1="450.29" y1="440.94" x2="462.71" y2="440.94" stroke="#111" stroke-width="0.8"/>
<rect x="445.00" y="448.34" width="23.00" height="14.06" fill="#0a0a0a"/>
<line x1="488.85" y1="448.34" x2="488.85" y2="438.13" stroke="#111" stroke-width="0.8"/>
<line x1="482.72" y1="438.13" x2="494.98" y2="438.13" stroke="#111" stroke-width="0.8"/>
<rect x="477.50" y="448.34" width="22.70" height="14.06" fill="#0a0a0a"/>
<line x1="407.50" y1="402.80" x2="407.50" y2="462.80" stroke="#111" stroke-width="1.0"/>
<line x1="407.10" y1="462.40" x2="505.20" y2="462.40" stroke="#111" stroke-width="1.0"/>
<line x1="405.30" y1="462.40" x2="407.50" y2="462.40" stroke="#111" stroke-width="1.0"/>
<text x="404.70" y="464.40" font-size="5.8" text-anchor="end" font-weight="normal" font-style="normal" fill="#000" stroke="#000" stroke-width="0.15">0</text>
<line x1="405.30" y1="447.60" x2="407.50" y2="447.60" stroke="#111" stroke-width="1.0"/>
<text x="404.70" y="449.60" font-size="5.8" text-anchor="end" font-weight="normal" font-style="normal" fill="#000" stroke="#000" stroke-width="0.15">20</text>
<line x1="405.30" y1="432.80" x2="407.50" y2="432.80" stroke="#111" stroke-width="1.0"/>
<text x="404.70" y="434.80" font-size="5.8" text-anchor="end" font-weight="normal" font-style="normal" fill="#000" stroke="#000" stroke-width="0.15">40</text>
<line x1="405.30" y1="418.00" x2="407.50" y2="418.00" stroke="#111" stroke-width="1.0"/>
<text x="404.70" y="420.00" font-size="5.8" text-anchor="end" font-weight="normal" font-style="normal" fill="#000" stroke="#000" stroke-width="0.15">60</text>
<line x1="405.30" y1="403.20" x2="407.50" y2="403.20" stroke="#111" stroke-width="1.0"/>
<text x="404.70" y="405.20" font-size="5.8" text-anchor="end" font-weight="normal" font-style="normal" fill="#000" stroke="#000" stroke-width="0.15">80</text>
<line x1="422.70" y1="407.50" x2="490.80" y2="407.50" stroke="#0a0a0a" stroke-width="1.1"/>
<line x1="422.70" y1="405.50" x2="422.70" y2="409.50" stroke="#000" stroke-width="1.1"/>
<line x1="490.80" y1="405.50" x2="490.80" y2="409.50" stroke="#000" stroke-width="1.1"/>
<text x="442.55" y="407.90" font-size="9" text-anchor="middle" font-weight="bold" font-style="normal" fill="#000" letter-spacing="0.9">***</text>
<line x1="422.70" y1="417.50" x2="456.60" y2="417.50" stroke="#0a0a0a" stroke-width="1.1"/>
<line x1="422.70" y1="415.50" x2="422.70" y2="419.50" stroke="#000" stroke-width="1.1"/>
<line x1="456.60" y1="415.50" x2="456.60" y2="419.50" stroke="#000" stroke-width="1.1"/>
<text x="433.15" y="417.90" font-size="9" text-anchor="middle" font-weight="bold" font-style="normal" fill="#000" letter-spacing="0.9">***</text>
<text x="423.75" y="467.80" font-size="5.4" text-anchor="middle" font-weight="normal" font-style="normal" fill="#000" stroke="#000" stroke-width="0.15">HD</text>
<text x="456.50" y="467.80" font-size="5.4" text-anchor="middle" font-weight="normal" font-style="normal" fill="#000" stroke="#000" stroke-width="0.15">WT</text>
<text x="488.85" y="467.80" font-size="5.4" text-anchor="middle" font-weight="normal" font-style="normal" fill="#000" stroke="#000" stroke-width="0.15">V617F</text>
<path d="M448.20,469.00 V471.00 H502.40 V469.00" fill="none" stroke="#000" stroke-width="1.1"/>
<text x="471.50" y="477.00" font-size="5.4" text-anchor="middle" font-weight="normal" font-style="normal" fill="#000" stroke="#000" stroke-width="0.15">PMF</text>
<text transform="translate(382.40,433.10) rotate(-90)" font-size="5.95" text-anchor="middle" fill="#000">% of phospho-</text>
<text transform="translate(389.15,433.10) rotate(-90)" font-size="5.95" text-anchor="middle" fill="#000">p38-positive</text>
<text transform="translate(395.40,433.10) rotate(-90)" font-size="5.95" text-anchor="middle" fill="#000">CD34<tspan dy="-2" dx="0.35" font-size="4.4">+</tspan><tspan dy="2" dx="0.35">CD41</tspan><tspan dy="-2" dx="0.35" font-size="4.4">+</tspan><tspan dy="2" dx="0.35">Flt3</tspan><tspan dy="-2" dx="0.35" font-size="4.4">+</tspan><tspan dy="2" dx="0.35"> cells</tspan></text>
<line x1="423.75" y1="552.18" x2="423.75" y2="551.59" stroke="#111" stroke-width="0.8"/>
<line x1="417.68" y1="551.59" x2="429.82" y2="551.59" stroke="#111" stroke-width="0.8"/>
<rect x="412.50" y="552.18" width="22.50" height="0.52" fill="#0a0a0a"/>
<line x1="456.50" y1="540.27" x2="456.50" y2="529.39" stroke="#111" stroke-width="0.8"/>
<line x1="450.29" y1="529.39" x2="462.71" y2="529.39" stroke="#111" stroke-width="0.8"/>
<rect x="445.00" y="540.27" width="23.00" height="12.43" fill="#0a0a0a"/>
<line x1="488.85" y1="547.08" x2="488.85" y2="545.45" stroke="#111" stroke-width="0.8"/>
<line x1="482.72" y1="545.45" x2="494.98" y2="545.45" stroke="#111" stroke-width="0.8"/>
<rect x="477.50" y="547.08" width="22.70" height="5.62" fill="#0a0a0a"/>
<line x1="407.50" y1="493.10" x2="407.50" y2="553.10" stroke="#111" stroke-width="1.0"/>
<line x1="407.10" y1="552.70" x2="505.20" y2="552.70" stroke="#111" stroke-width="1.0"/>
<line x1="405.30" y1="552.70" x2="407.50" y2="552.70" stroke="#111" stroke-width="1.0"/>
<text x="404.70" y="554.70" font-size="5.8" text-anchor="end" font-weight="normal" font-style="normal" fill="#000" stroke="#000" stroke-width="0.15">0</text>
<line x1="405.30" y1="537.90" x2="407.50" y2="537.90" stroke="#111" stroke-width="1.0"/>
<text x="404.70" y="539.90" font-size="5.8" text-anchor="end" font-weight="normal" font-style="normal" fill="#000" stroke="#000" stroke-width="0.15">20</text>
<line x1="405.30" y1="523.10" x2="407.50" y2="523.10" stroke="#111" stroke-width="1.0"/>
<text x="404.70" y="525.10" font-size="5.8" text-anchor="end" font-weight="normal" font-style="normal" fill="#000" stroke="#000" stroke-width="0.15">40</text>
<line x1="405.30" y1="508.30" x2="407.50" y2="508.30" stroke="#111" stroke-width="1.0"/>
<text x="404.70" y="510.30" font-size="5.8" text-anchor="end" font-weight="normal" font-style="normal" fill="#000" stroke="#000" stroke-width="0.15">60</text>
<line x1="405.30" y1="493.50" x2="407.50" y2="493.50" stroke="#111" stroke-width="1.0"/>
<text x="404.70" y="495.50" font-size="5.8" text-anchor="end" font-weight="normal" font-style="normal" fill="#000" stroke="#000" stroke-width="0.15">80</text>
<line x1="424.00" y1="493.50" x2="490.80" y2="493.50" stroke="#0a0a0a" stroke-width="1.1"/>
<line x1="424.00" y1="491.50" x2="424.00" y2="495.50" stroke="#000" stroke-width="1.1"/>
<line x1="490.80" y1="491.50" x2="490.80" y2="495.50" stroke="#000" stroke-width="1.1"/>
<text x="440.65" y="493.90" font-size="9" text-anchor="middle" font-weight="bold" font-style="normal" fill="#000" letter-spacing="0.9">***</text>
<line x1="424.00" y1="503.50" x2="456.60" y2="503.50" stroke="#0a0a0a" stroke-width="1.1"/>
<line x1="424.00" y1="501.50" x2="424.00" y2="505.50" stroke="#000" stroke-width="1.1"/>
<line x1="456.60" y1="501.50" x2="456.60" y2="505.50" stroke="#000" stroke-width="1.1"/>
<text x="435.85" y="503.90" font-size="9" text-anchor="middle" font-weight="bold" font-style="normal" fill="#000" letter-spacing="0.9">**</text>
<text x="423.75" y="558.10" font-size="5.4" text-anchor="middle" font-weight="normal" font-style="normal" fill="#000" stroke="#000" stroke-width="0.15">HD</text>
<text x="456.50" y="558.10" font-size="5.4" text-anchor="middle" font-weight="normal" font-style="normal" fill="#000" stroke="#000" stroke-width="0.15">WT</text>
<text x="488.85" y="558.10" font-size="5.4" text-anchor="middle" font-weight="normal" font-style="normal" fill="#000" stroke="#000" stroke-width="0.15">V617F</text>
<path d="M448.20,559.30 V561.30 H502.40 V559.30" fill="none" stroke="#000" stroke-width="1.1"/>
<text x="471.00" y="567.30" font-size="5.4" text-anchor="middle" font-weight="normal" font-style="normal" fill="#000" stroke="#000" stroke-width="0.15">PMF</text>
<text transform="translate(382.40,523.40) rotate(-90)" font-size="5.95" text-anchor="middle" fill="#000">% of phospho-</text>
<text transform="translate(389.15,523.40) rotate(-90)" font-size="5.95" text-anchor="middle" fill="#000">MAPKAPK2-positive</text>
<text transform="translate(395.40,523.40) rotate(-90)" font-size="5.95" text-anchor="middle" fill="#000">CD34<tspan dy="-2" dx="0.35" font-size="4.4">+</tspan><tspan dy="2" dx="0.35">CD41</tspan><tspan dy="-2" dx="0.35" font-size="4.4">+</tspan><tspan dy="2" dx="0.35">Flt3</tspan><tspan dy="-2" dx="0.35" font-size="4.4">+</tspan><tspan dy="2" dx="0.35"> cells</tspan></text>
<line x1="423.75" y1="640.98" x2="423.75" y2="640.83" stroke="#111" stroke-width="0.8"/>
<line x1="417.68" y1="640.83" x2="429.82" y2="640.83" stroke="#111" stroke-width="0.8"/>
<rect x="412.50" y="640.98" width="22.50" height="0.22" fill="#0a0a0a"/>
<line x1="456.50" y1="629.39" x2="456.50" y2="625.50" stroke="#111" stroke-width="0.8"/>
<line x1="450.29" y1="625.50" x2="462.71" y2="625.50" stroke="#111" stroke-width="0.8"/>
<rect x="445.00" y="629.39" width="23.00" height="11.81" fill="#0a0a0a"/>
<line x1="488.85" y1="631.56" x2="488.85" y2="625.50" stroke="#111" stroke-width="0.8"/>
<line x1="482.72" y1="625.50" x2="494.98" y2="625.50" stroke="#111" stroke-width="0.8"/>
<rect x="477.50" y="631.56" width="22.70" height="9.64" fill="#0a0a0a"/>
<line x1="407.50" y1="581.00" x2="407.50" y2="641.60" stroke="#111" stroke-width="1.0"/>
<line x1="407.10" y1="641.20" x2="505.20" y2="641.20" stroke="#111" stroke-width="1.0"/>
<line x1="405.30" y1="641.20" x2="407.50" y2="641.20" stroke="#111" stroke-width="1.0"/>
<text x="404.70" y="643.20" font-size="5.8" text-anchor="end" font-weight="normal" font-style="normal" fill="#000" stroke="#000" stroke-width="0.15">0</text>
<line x1="405.30" y1="626.25" x2="407.50" y2="626.25" stroke="#111" stroke-width="1.0"/>
<text x="404.70" y="628.25" font-size="5.8" text-anchor="end" font-weight="normal" font-style="normal" fill="#000" stroke="#000" stroke-width="0.15">20</text>
<line x1="405.30" y1="611.30" x2="407.50" y2="611.30" stroke="#111" stroke-width="1.0"/>
<text x="404.70" y="613.30" font-size="5.8" text-anchor="end" font-weight="normal" font-style="normal" fill="#000" stroke="#000" stroke-width="0.15">40</text>
<line x1="405.30" y1="596.35" x2="407.50" y2="596.35" stroke="#111" stroke-width="1.0"/>
<text x="404.70" y="598.35" font-size="5.8" text-anchor="end" font-weight="normal" font-style="normal" fill="#000" stroke="#000" stroke-width="0.15">60</text>
<line x1="405.30" y1="581.40" x2="407.50" y2="581.40" stroke="#111" stroke-width="1.0"/>
<text x="404.70" y="583.40" font-size="5.8" text-anchor="end" font-weight="normal" font-style="normal" fill="#000" stroke="#000" stroke-width="0.15">80</text>
<line x1="426.20" y1="590.50" x2="488.10" y2="590.50" stroke="#0a0a0a" stroke-width="1.1"/>
<line x1="426.20" y1="588.50" x2="426.20" y2="592.50" stroke="#000" stroke-width="1.1"/>
<line x1="488.10" y1="588.50" x2="488.10" y2="592.50" stroke="#000" stroke-width="1.1"/>
<text x="443.95" y="590.90" font-size="9" text-anchor="middle" font-weight="bold" font-style="normal" fill="#000" letter-spacing="0.9">***</text>
<line x1="426.20" y1="602.50" x2="457.10" y2="602.50" stroke="#0a0a0a" stroke-width="1.1"/>
<line x1="426.20" y1="600.50" x2="426.20" y2="604.50" stroke="#000" stroke-width="1.1"/>
<line x1="457.10" y1="600.50" x2="457.10" y2="604.50" stroke="#000" stroke-width="1.1"/>
<text x="435.85" y="602.90" font-size="9" text-anchor="middle" font-weight="bold" font-style="normal" fill="#000" letter-spacing="0.9">***</text>
<text x="423.75" y="646.60" font-size="5.4" text-anchor="middle" font-weight="normal" font-style="normal" fill="#000" stroke="#000" stroke-width="0.15">HD</text>
<text x="456.50" y="646.60" font-size="5.4" text-anchor="middle" font-weight="normal" font-style="normal" fill="#000" stroke="#000" stroke-width="0.15">WT</text>
<text x="488.85" y="646.60" font-size="5.4" text-anchor="middle" font-weight="normal" font-style="normal" fill="#000" stroke="#000" stroke-width="0.15">V617F</text>
<path d="M448.40,646.70 V648.70 H501.80 V646.70" fill="none" stroke="#000" stroke-width="1.1"/>
<text x="471.00" y="655.25" font-size="5.4" text-anchor="middle" font-weight="normal" font-style="normal" fill="#000" stroke="#000" stroke-width="0.15">PMF</text>
<text transform="translate(382.40,611.60) rotate(-90)" font-size="5.95" text-anchor="middle" fill="#000">% of phospho-</text>
<text transform="translate(389.15,611.60) rotate(-90)" font-size="5.95" text-anchor="middle" fill="#000">ATF2-positive</text>
<text transform="translate(395.40,611.60) rotate(-90)" font-size="5.95" text-anchor="middle" fill="#000">CD34<tspan dy="-2" dx="0.35" font-size="4.4">+</tspan><tspan dy="2" dx="0.35">CD41</tspan><tspan dy="-2" dx="0.35" font-size="4.4">+</tspan><tspan dy="2" dx="0.35">Flt3</tspan><tspan dy="-2" dx="0.35" font-size="4.4">+</tspan><tspan dy="2" dx="0.35"> cells</tspan></text>
<g shape-rendering="crispEdges"><rect x="1" y="1" width="517" height="667" fill="none" stroke="#f3f3f3" stroke-width="1" transform="translate(0.5,0.5)"/><rect x="0" y="0" width="520" height="1" fill="#505050"/><rect x="0" y="669" width="520" height="1" fill="#505050"/><rect x="0" y="0" width="1" height="670" fill="#585858"/><rect x="519" y="0" width="1" height="670" fill="#7c7c7c"/></g>
</svg>
</body></html>
